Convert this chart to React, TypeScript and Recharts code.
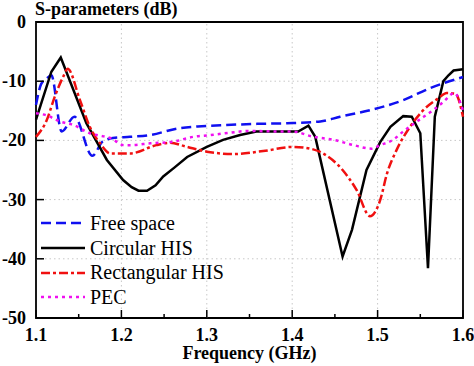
import { LineChart, Line, XAxis, YAxis, ReferenceLine, ReferenceArea, Legend } from "recharts"

// values (frequency in GHz, S-parameters in dB)
const FREE_F  = [1.1, 1.106, 1.112, 1.118, 1.13, 1.145, 1.166, 1.178, 1.19, 1.21, 1.234, 1.265, 1.294, 1.323, 1.36, 1.394, 1.433, 1.456, 1.491, 1.53, 1.561, 1.6]
const FREE_DB = [-14, -10.5, -9.6, -9.0, -18.5, -16, -22.6, -20.2, -19.6, -19.4, -19.1, -18.0, -17.6, -17.4, -17.2, -17.1, -16.8, -16.0, -14.9, -13.2, -11.2, -9.3]

const CIRC_F  = [1.1, 1.118, 1.129, 1.159, 1.183, 1.202, 1.212, 1.22, 1.23, 1.24, 1.249, 1.262, 1.277, 1.3, 1.319, 1.339, 1.358, 1.386, 1.407, 1.419, 1.427, 1.459, 1.47, 1.487, 1.503, 1.515, 1.53, 1.54, 1.55, 1.559, 1.567, 1.577, 1.583, 1.589, 1.6]
const CIRC_DB = [-16.5, -8.4, -6.0, -17.1, -23.3, -26.7, -27.9, -28.5, -28.5, -27.6, -26.1, -24.6, -22.8, -21.1, -19.9, -19.1, -18.5, -18.5, -18.5, -17.5, -19.4, -39.6, -35.1, -25, -20.3, -17.7, -15.9, -16.0, -18.8, -41.6, -16, -10, -9.0, -8.2, -8.0]

const RECT_F  = [1.1, 1.1125, 1.122, 1.132, 1.137, 1.1515, 1.163, 1.175, 1.187, 1.21, 1.241, 1.257, 1.277, 1.3, 1.331, 1.366, 1.401, 1.413, 1.436, 1.459, 1.4755, 1.491, 1.503, 1.511, 1.5223, 1.538, 1.5535, 1.571, 1.581, 1.591, 1.6]
const RECT_DB = [-19.4, -16.6, -12.6, -9.2, -7.9, -13.2, -17.7, -20.5, -22.2, -22.2, -20.8, -20.4, -21.1, -21.9, -22.3, -21.8, -21.1, -21.2, -22.2, -25.0, -28.4, -32.8, -30.1, -25.6, -21.6, -17.7, -14.9, -12.9, -12.0, -12.1, -16]

const PEC_F  = [1.1, 1.113, 1.128, 1.144, 1.163, 1.175, 1.187, 1.203, 1.21, 1.234, 1.261, 1.284, 1.304, 1.327, 1.35, 1.386, 1.4, 1.425, 1.448, 1.472, 1.493, 1.503, 1.518, 1.53, 1.546, 1.565, 1.577, 1.59, 1.6]
const PEC_DB = [-15.4, -15.8, -16.8, -17.4, -18.8, -19.2, -19.6, -20.8, -20.8, -20.5, -20.2, -19.4, -19.1, -18.7, -18.4, -18.5, -18.5, -19.4, -19.9, -20.8, -21.4, -20.8, -19.9, -18.5, -16.8, -14.9, -13.5, -12.0, -15]

const X_TICKS = [1.1, 1.15, 1.2, 1.25, 1.3, 1.35, 1.4, 1.45, 1.5, 1.55, 1.6]
const Y_TICKS = [0, -10, -20, -30, -40, -50]
const GRID_X = [1.2, 1.3, 1.4, 1.5]
const GRID_Y = [-10, -20, -30, -40]

const FONT = "'Liberation Serif', 'Times New Roman', serif"

const zip = (f: number[], db: number[]) => f.map((x, i) => ({ f: x, db: db[i] }))

const SERIES = [
  { name: "Free space",      data: zip(FREE_F, FREE_DB), color: "#1010f0", dash: "10 5",     type: "monotone" },
  { name: "Circular HIS",    data: zip(CIRC_F, CIRC_DB), color: "#000000", dash: undefined,  type: "linear" },
  { name: "Rectangular HIS", data: zip(RECT_F, RECT_DB), color: "#f01010", dash: "9 3 3 3",  type: "monotone" },
  { name: "PEC",             data: zip(PEC_F, PEC_DB),   color: "#f010f0", dash: "3 4",      type: "monotone" },
]

const XTick = ({ x, y, payload }: any) => {
  const v = payload.value
  const major = Math.round(v * 100) % 10 === 0
  return (
    <g>
      <line x1={x} x2={x} y1={y} y2={y - (major ? 8 : 4)} stroke="#000" strokeWidth={1.5} />
      {major && (
        <text x={x} y={y + 23} textAnchor="middle" fontSize={18} fontWeight="bold" fontFamily={FONT} fill="#000">
          {v.toFixed(1)}
        </text>
      )}
    </g>
  )
}

const YTick = ({ x, y, payload }: any) => (
  <g>
    <line x1={x} x2={x + 8} y1={y} y2={y} stroke="#000" strokeWidth={1.5} />
    <text x={x - 10} y={y + 6} textAnchor="end" fontSize={18} fontWeight="bold" fontFamily={FONT} fill="#000">
      {payload.value}
    </text>
  </g>
)

const LegendBox = () => (
  <div style={{ fontFamily: FONT, fontSize: 20, color: "#000", lineHeight: "24.7px" }}>
    {SERIES.map(s => (
      <div key={s.name} style={{ display: "flex", alignItems: "center", height: 24.7 }}>
        <svg width={46} height={10} style={{ marginRight: 4 }}>
          <line x1={1} x2={45} y1={5} y2={5} stroke={s.color} strokeWidth={2.5} strokeDasharray={s.dash} />
        </svg>
        <span>{s.name}</span>
      </div>
    ))}
  </div>
)

export default function App() {
  return (
    <div style={{ position: "absolute", left: 0, top: 0, background: "#fff" }}>
      <LineChart width={474} height={366} margin={{ top: 22, right: 11, bottom: 0, left: 0 }}>
        {GRID_X.map(v => (
          <ReferenceLine key={"gx" + v} x={v} stroke="#c8c8c8" strokeDasharray="1.5 3" />
        ))}
        {GRID_Y.map(v => (
          <ReferenceLine key={"gy" + v} y={v} stroke="#c8c8c8" strokeDasharray="1.5 3" />
        ))}
        <XAxis
          dataKey="f"
          type="number"
          domain={[1.1, 1.6]}
          ticks={X_TICKS}
          interval={0}
          allowDuplicatedCategory={false}
          axisLine={false}
          tickLine={false}
          tickSize={0}
          tickMargin={0}
          tick={<XTick />}
          height={48}
          label={{
            content: () => (
              <text x={249.5} y={359} textAnchor="middle" fontSize={18} fontWeight="bold" fontFamily={FONT} fill="#000">
                Frequency (GHz)
              </text>
            ),
          }}
        />
        <YAxis
          type="number"
          domain={[-50, 0]}
          ticks={Y_TICKS}
          interval={0}
          width={36}
          axisLine={false}
          tickLine={false}
          tickSize={0}
          tickMargin={0}
          tick={<YTick />}
          label={{
            content: () => (
              <text x={35} y={15} fontSize={18} fontWeight="bold" fontFamily={FONT} fill="#000">
                S-parameters (dB)
              </text>
            ),
          }}
        />
        <Legend
          layout="vertical"
          align="center"
          verticalAlign="middle"
          content={<LegendBox />}
          wrapperStyle={{ left: 40, top: 211, width: "auto", height: "auto" }}
        />
        {SERIES.map(s => (
          <Line
            key={s.name}
            data={s.data}
            dataKey="db"
            name={s.name}
            type={s.type as any}
            stroke={s.color}
            strokeWidth={2.5}
            strokeDasharray={s.dash}
            dot={false}
            activeDot={false}
            isAnimationActive={false}
          />
        ))}
        <ReferenceArea x1={1.1} x2={1.6} y1={-50} y2={0} fill="none" stroke="#000" strokeWidth={1.8} />
      </LineChart>
    </div>
  )
}
